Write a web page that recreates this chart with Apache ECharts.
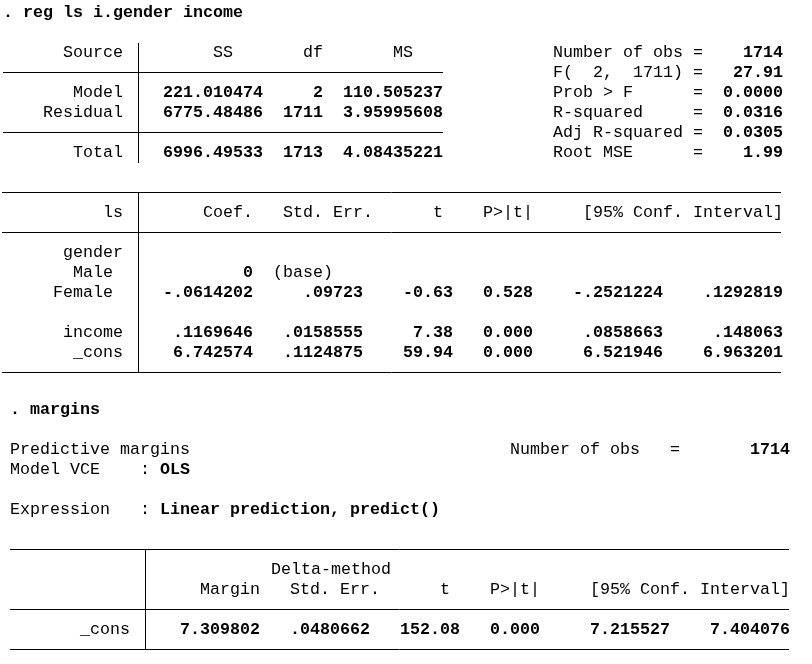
<!DOCTYPE html>
<html>
<head>
<meta charset="utf-8">
<script src="https://cdn.jsdelivr.net/npm/echarts@6/dist/echarts.min.js"></script>
<style>
html,body{margin:0;padding:0;background:#fff;}
#main{width:812px;height:664px;}
</style>
</head>
<body>
<div id="main"></div>
<script>
// ---------- data ----------
const regCommand = ". reg ls i.gender income";
const anovaHeader = ["Source", "SS", "df", "MS"];
const anovaSource = ["Model", "Residual", "Total"];
const anovaSS = ["221.010474", "6775.48486", "6996.49533"];
const anovaDf = ["2", "1711", "1713"];
const anovaMS = ["110.505237", "3.95995608", "4.08435221"];

const fitLabels = ["Number of obs", "F(  2,  1711)", "Prob > F", "R-squared", "Adj R-squared", "Root MSE"];
const fitValues = ["1714", "27.91", "0.0000", "0.0316", "0.0305", "1.99"];

const coefHeader = ["ls", "Coef.", "Std. Err.", "t", "P>|t|", "[95% Conf. Interval]"];
const coefTerms = ["gender", "Male", "Female", "income", "_cons"];
const coefB = ["", "0", "-.0614202", ".1169646", "6.742574"];
const coefSE = ["", "(base)", ".09723", ".0158555", ".1124875"];
const coefT = ["", "", "-0.63", "7.38", "59.94"];
const coefP = ["", "", "0.528", "0.000", "0.000"];
const coefLo = ["", "", "-.2521224", ".0858663", "6.521946"];
const coefHi = ["", "", ".1292819", ".148063", "6.963201"];

const marginsCommand = ". margins";
const marginsTitle = "Predictive margins";
const marginsObsLabel = "Number of obs";
const marginsObs = "1714";
const marginsInfoLabels = ["Model VCE", "Expression"];
const marginsInfoValues = ["OLS", "Linear prediction, predict()"];
const marginsHeaderTop = "Delta-method";
const marginsHeader = ["Margin", "Std. Err.", "t", "P>|t|", "[95% Conf. Interval]"];
const marginsTerms = ["_cons"];
const marginsVals = [["7.309802", ".0480662", "152.08", "0.000", "7.215527", "7.404076"]];

// ---------- layout / style ----------
const FONT = "'Courier New', 'Nimbus Mono PS', 'Nimbus Mono L', FreeMono, 'Liberation Mono', monospace";
const FS = 16.66;
const COLOR = "#000";
const DY = 1;
const els = [];

function txt(s, x, y, align, bold) {
  if (s === "") return;
  els.push({
    type: "text", x: x, y: y + DY, silent: true,
    style: {
      text: s, x: 0, y: 0, fill: COLOR,
      font: (bold ? "bold " : "") + FS + "px " + FONT,
      align: align || "left", verticalAlign: "middle"
    }
  });
}
function hline(x1, x2, y) {
  els.push({ type: "line", silent: true, shape: { x1: x1, y1: y + 0.5, x2: x2, y2: y + 0.5 },
    style: { stroke: COLOR, lineWidth: 1 } });
}
function vline(x, y1, y2) {
  els.push({ type: "line", silent: true, shape: { x1: x + 0.5, y1: y1, x2: x + 0.5, y2: y2 },
    style: { stroke: COLOR, lineWidth: 1 } });
}

// command line
txt(regCommand, 3, 12, "left", true);

// ANOVA table
const anovaHdrX = [123, 233, 323, 413];
anovaHeader.forEach((h, i) => txt(h, anovaHdrX[i], 52, "right", false));
const anovaRowY = [92, 112, 152];
anovaSource.forEach((s, i) => {
  txt(s, 123, anovaRowY[i], "right", false);
  txt(anovaSS[i], 263, anovaRowY[i], "right", true);
  txt(anovaDf[i], 323, anovaRowY[i], "right", true);
  txt(anovaMS[i], 443, anovaRowY[i], "right", true);
});
hline(3, 443, 72);
hline(3, 443, 132);
vline(138, 43, 163);

// fit statistics
fitLabels.forEach((l, i) => {
  const y = 52 + i * 20;
  txt(l, 553, y, "left", false);
  txt("=", 698, y, "center", false);
  txt(fitValues[i], 783, y, "right", true);
});

// coefficient table
const coefHdrX = [123, 253, 373, 443, 533, 783];
coefHeader.forEach((h, i) => txt(h, coefHdrX[i], 212, "right", false));
const coefRowY = [252, 272, 292, 332, 352];
const coefLabelX = [123, 113, 113, 123, 123];
coefTerms.forEach((t, i) => {
  const y = coefRowY[i];
  txt(t, coefLabelX[i], y, "right", false);
  txt(coefB[i], 253, y, "right", true);
  if (coefSE[i].charAt(0) === "(") txt(coefSE[i], 273, y, "left", false);
  else txt(coefSE[i], 363, y, "right", true);
  txt(coefT[i], 453, y, "right", true);
  txt(coefP[i], 533, y, "right", true);
  txt(coefLo[i], 663, y, "right", true);
  txt(coefHi[i], 783, y, "right", true);
});
hline(2, 781, 192);
hline(2, 781, 232);
hline(2, 781, 372);
vline(138, 192, 372);

// margins
txt(marginsCommand, 10, 409, "left", true);
txt(marginsTitle, 10, 449, "left", false);
txt(marginsObsLabel, 510, 449, "left", false);
txt("=", 675, 449, "center", false);
txt(marginsObs, 790, 449, "right", true);
const infoY = [469, 509];
marginsInfoLabels.forEach((l, i) => {
  txt(l, 10, infoY[i], "left", false);
  txt(":", 145, infoY[i], "center", false);
  txt(marginsInfoValues[i], 160, infoY[i], "left", true);
});

// margins table
txt(marginsHeaderTop, 391, 569, "right", false);
const mHdrX = [260, 380, 450, 540, 790];
marginsHeader.forEach((h, i) => txt(h, mHdrX[i], 589, "right", false));
const mValX = [260, 370, 460, 540, 670, 790];
marginsTerms.forEach((t, r) => {
  const y = 629 + r * 20;
  txt(t, 130, y, "right", false);
  marginsVals[r].forEach((v, j) => txt(v, mValX[j], y, "right", true));
});
hline(10, 789, 549);
hline(10, 789, 609);
hline(10, 789, 649);
vline(145, 549, 649);

const chart = echarts.init(document.getElementById("main"), null, { renderer: "canvas" });
chart.setOption({
  backgroundColor: "#fff",
  animation: false,
  graphic: { elements: els }
});
</script>
</body>
</html>
